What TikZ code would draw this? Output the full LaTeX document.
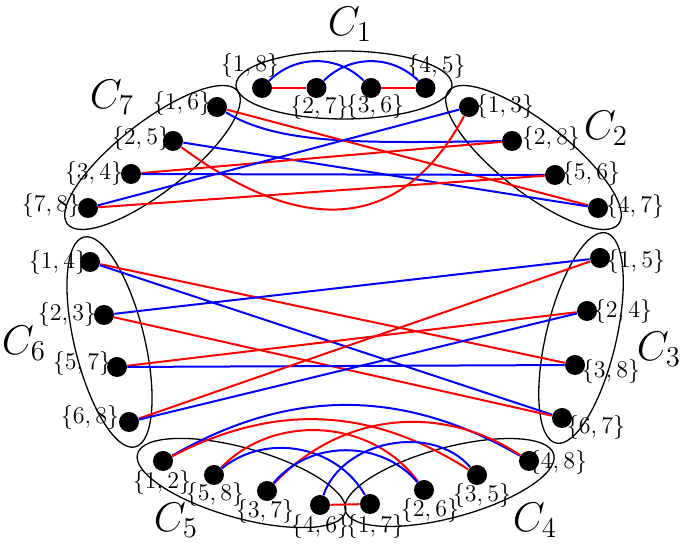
\documentclass[tikz,border=0pt]{standalone}
\begin{document}
\begin{tikzpicture}[x=0.5pt,y=0.5pt,
  dot/.style={circle,fill=black,inner sep=0pt,minimum size=10pt},
  lbl/.style={font=\fontsize{12}{14}\selectfont,inner sep=0pt},
  cl/.style={font=\fontsize{22}{26}\selectfont,inner sep=0pt},
  grp/.style={draw=black,line width=0.65pt},
  re/.style={draw=red,line width=1pt},
  be/.style={draw=blue,line width=1pt}]
\useasboundingbox (0,0) rectangle (685,545);

% group ellipses
\draw[grp] (344,460) ellipse [x radius=54pt, y radius=17pt];
\draw[grp,rotate around={38:(152.5,387.5)}] (152.5,387.5) ellipse [x radius=54pt, y radius=17.5pt];
\draw[grp,rotate around={-38:(533.5,387.5)}] (533.5,387.5) ellipse [x radius=54pt, y radius=17.5pt];
\draw[grp,rotate around={103.7:(109.5,203)}] (109.5,203) ellipse [x radius=54pt, y radius=17.5pt];
\draw[grp,rotate around={76.6:(581,207)}] (581,207) ellipse [x radius=54pt, y radius=17.5pt];
\draw[grp,rotate around={-15.7:(241.5,62)}] (241.5,62) ellipse [x radius=54pt, y radius=17.5pt];
\draw[grp,rotate around={15.1:(449.5,62.5)}] (449.5,62.5) ellipse [x radius=54pt, y radius=17.5pt];

% vertices
\node[dot] (a18) at (262,457) {};
\node[dot] (a27) at (316.5,457) {};
\node[dot] (a36) at (371,457) {};
\node[dot] (a45) at (425.5,457) {};
\node[dot] (a16) at (217,438) {};
\node[dot] (a25) at (173,404) {};
\node[dot] (a34) at (131,371) {};
\node[dot] (a78) at (88,337) {};
\node[dot] (a13) at (469,438) {};
\node[dot] (a28) at (512,404) {};
\node[dot] (a56) at (555,370) {};
\node[dot] (a47) at (598,337) {};
\node[dot] (a14) at (90,283) {};
\node[dot] (a23) at (104,230) {};
\node[dot] (a57) at (117,178) {};
\node[dot] (a68) at (129,123) {};
\node[dot] (a15) at (600,287) {};
\node[dot] (a24) at (587,234) {};
\node[dot] (a38) at (575,180) {};
\node[dot] (a67) at (562,127) {};
\node[dot] (a12) at (163,84) {};
\node[dot] (a58) at (214,70) {};
\node[dot] (a37) at (267,54) {};
\node[dot] (a46) at (320,40) {};
\node[dot] (a17) at (370,41) {};
\node[dot] (a26) at (424,55) {};
\node[dot] (a35) at (477,70) {};
\node[dot] (a48) at (529,84) {};

% vertex labels
\node[lbl] (l18) at ([shift={(-12,22)}]a18) {$\{1,8\}$};
\node[lbl] (l27) at ([shift={(3,-20)}]a27) {$\{2,7\}$};
\node[lbl] (l36) at ([shift={(4,-19)}]a36) {$\{3,6\}$};
\node[lbl] (l45) at ([shift={(11,21)}]a45) {$\{4,5\}$};
\node[lbl] (l16) at ([shift={(-35,3)}]a16) {$\{1,6\}$};
\node[lbl] (l25) at ([shift={(-32,2)}]a25) {$\{2,5\}$};
\node[lbl] (l34) at ([shift={(-37,0)}]a34) {$\{3,4\}$};
\node[lbl] (l78) at ([shift={(-37,2)}]a78) {$\{7,8\}$};
\node[lbl] (l13) at ([shift={(36,0)}]a13) {$\{1,3\}$};
\node[lbl] (l28) at ([shift={(39,2)}]a28) {$\{2,8\}$};
\node[lbl] (l56) at ([shift={(36,1)}]a56) {$\{5,6\}$};
\node[lbl] (l47) at ([shift={(37,1)}]a47) {$\{4,7\}$};
\node[lbl] (l14) at ([shift={(-32,-1)}]a14) {$\{1,4\}$};
\node[lbl] (l23) at ([shift={(-37,0)}]a23) {$\{2,3\}$};
\node[lbl] (l57) at ([shift={(-35,3)}]a57) {$\{5,7\}$};
\node[lbl] (l68) at ([shift={(-39,4)}]a68) {$\{6,8\}$};
\node[lbl] (l15) at ([shift={(36,-4)}]a15) {$\{1,5\}$};
\node[lbl] (l24) at ([shift={(36,-1)}]a24) {$\{2,4\}$};
\node[lbl] (l38) at ([shift={(36,-7)}]a38) {$\{3,8\}$};
\node[lbl] (l67) at ([shift={(34,-10)}]a67) {$\{6,7\}$};
\node[lbl] (l12) at ([shift={(-1,-22)}]a12) {$\{1,2\}$};
\node[lbl] (l58) at ([shift={(1,-20)}]a58) {$\{5,8\}$};
\node[lbl] (l37) at ([shift={(-2,-21)}]a37) {$\{3,7\}$};
\node[lbl] (l46) at ([shift={(0,-22)}]a46) {$\{4,6\}$};
\node[lbl] (l17) at ([shift={(5,-23)}]a17) {$\{1,7\}$};
\node[lbl] (l26) at ([shift={(6,-21)}]a26) {$\{2,6\}$};
\node[lbl] (l35) at ([shift={(5,-21)}]a35) {$\{3,5\}$};
\node[lbl] (l48) at ([shift={(29,-2)}]a48) {$\{4,8\}$};

% group labels
\node[cl] (c1) at (350,521) {$C_1$};
\node[cl] (c7) at (112,448) {$C_7$};
\node[cl] (c2) at (606,417) {$C_2$};
\node[cl] (c6) at (24,202) {$C_6$};
\node[cl] (c3) at (659,196) {$C_3$};
\node[cl] (c5) at (176,25) {$C_5$};
\node[cl] (c4) at (535,25) {$C_4$};

% C1 internal
\draw[re] (a18) -- (a27);
\draw[re] (a36) -- (a45);
\draw[be] (a18) to[bend left=45] (a36);
\draw[be] (a27) to[bend left=45] (a45);

% C7 -- C2
\draw[be] (a16) .. controls (280,400) and (360,402) .. (a28);
\draw[re] (a16) -- (a47);
\draw[be] (a25) -- (a47);
\draw[re] (a25) .. controls (300,310) and (400,310) .. (a13);
\draw[re] (a34) -- (a28);
\draw[be] (a34) -- (a56);
\draw[be] (a78) -- (a13);
\draw[re] (a78) -- (a56);

% C6 -- C3
\draw[re] (a14) -- (a38);
\draw[be] (a14) -- (a67);
\draw[be] (a23) -- (a15);
\draw[re] (a23) -- (a67);
\draw[re] (a57) -- (a24);
\draw[be] (a57) -- (a38);
\draw[re] (a68) -- (a15);
\draw[be] (a68) -- (a24);

% C5 -- C4
\draw[re] (a46) -- (a17);
\draw[be] (a12) to[bend left=30] (a48);
\draw[re] (a12) to[bend left=30] (a35);
\draw[re] (a58) to[bend left=50] (a26);
\draw[be] (a58) to[bend left=50] (a17);
\draw[re] (a37) to[bend left=40] (a48);
\draw[be] (a37) to[bend left=50] (a26);
\draw[be] (a46) to[bend left=60] (a35);
\end{tikzpicture}
\end{document}
